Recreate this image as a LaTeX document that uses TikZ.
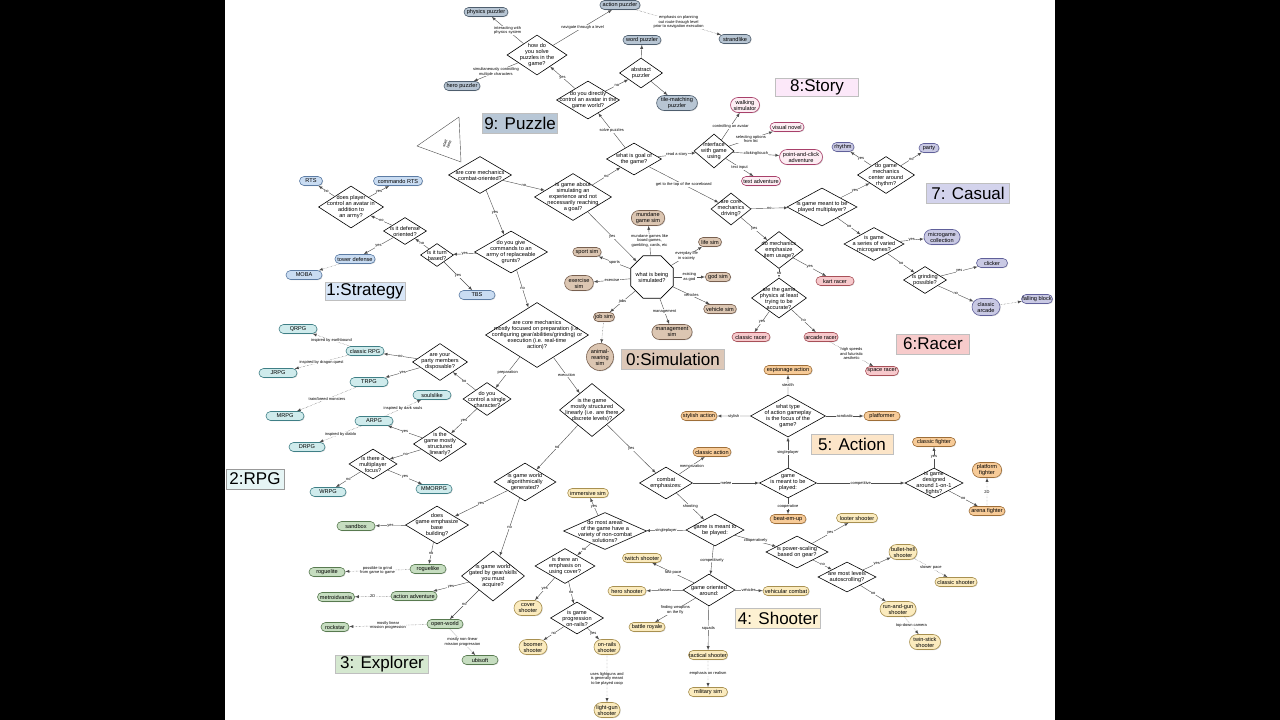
\documentclass[tikz,border=0pt]{standalone}
\usepackage{fontspec}
\setmainfont{Liberation Sans}
\usetikzlibrary{arrows}
\usetikzlibrary{shapes}
\usetikzlibrary{shadows}

\definecolor{puzF}{HTML}{B7C5D3}\definecolor{puzD}{HTML}{4E5E6E}\definecolor{puzL}{HTML}{B8C7D6}
\definecolor{strF}{HTML}{C9DCF2}\definecolor{strD}{HTML}{5C7CA4}\definecolor{strL}{HTML}{D8E6F7}
\definecolor{rpgF}{HTML}{CFEBEC}\definecolor{rpgD}{HTML}{3F7F86}\definecolor{rpgL}{HTML}{E6F5F5}
\definecolor{expF}{HTML}{C6DDC0}\definecolor{expD}{HTML}{587A50}\definecolor{expL}{HTML}{D5E8D0}
\definecolor{shoF}{HTML}{FBEBBE}\definecolor{shoD}{HTML}{A89050}\definecolor{shoL}{HTML}{FDF1D2}
\definecolor{actF}{HTML}{F7CB98}\definecolor{actD}{HTML}{9E6E38}\definecolor{actL}{HTML}{FCE5C8}
\definecolor{racF}{HTML}{F7C9CC}\definecolor{racD}{HTML}{A85058}\definecolor{racL}{HTML}{F7CBCB}
\definecolor{casF}{HTML}{C9C9E4}\definecolor{casD}{HTML}{60609A}\definecolor{casL}{HTML}{D3D3EC}
\definecolor{stoF}{HTML}{FDEDF3}\definecolor{stoD}{HTML}{A8406A}\definecolor{stoL}{HTML}{FCE8F9}
\definecolor{simF}{HTML}{DCC6B2}\definecolor{simD}{HTML}{786050}\definecolor{simL}{HTML}{DDC8B8}

\newcommand{\gnfont}{\fontsize{5.6}{6}\selectfont}
\newcommand{\elfont}{\fontsize{4}{4.5}\selectfont}
\newcommand{\clfont}{\fontsize{17}{19}\selectfont}

\begin{document}
\begin{tikzpicture}[x=1pt, y=-1pt]
	\tikzstyle{nodeStyle}=[rounded rectangle, draw, line width=.6pt, inner xsep=2pt, inner ysep=.8pt, minimum height=9pt, font=\gnfont, align=center, drop shadow={shadow xshift=.7pt, shadow yshift=-.7pt, opacity=.35}]
	\tikzstyle{twoStyle}=[minimum height=15pt]
	\tikzstyle{puzzleStyle}=[nodeStyle, fill=puzF, draw=puzD]
	\tikzstyle{strategyStyle}=[nodeStyle, fill=strF, draw=strD]
	\tikzstyle{rpgStyle}=[nodeStyle, fill=rpgF, draw=rpgD]
	\tikzstyle{explorerStyle}=[nodeStyle, fill=expF, draw=expD]
	\tikzstyle{shooterStyle}=[nodeStyle, fill=shoF, draw=shoD]
	\tikzstyle{actionStyle}=[nodeStyle, fill=actF, draw=actD]
	\tikzstyle{racerStyle}=[nodeStyle, fill=racF, draw=racD]
	\tikzstyle{casualStyle}=[nodeStyle, fill=casF, draw=casD]
	\tikzstyle{storyStyle}=[nodeStyle, fill=stoF, draw=stoD]
	\tikzstyle{simStyle}=[nodeStyle, fill=simF, draw=simD]
	\tikzstyle{askStyle}=[diamond, draw=black, line width=.6pt, fill=white, inner sep=0pt]
	\tikzstyle{askText}=[font=\gnfont, align=center, inner sep=0pt]
	\tikzstyle{clusterStyle}=[draw=black!25, line width=.4pt, font=\clfont, inner sep=1pt, minimum height=20pt]
	\tikzstyle{edgeStyle}=[draw=black!70, line width=.4pt, -latex]
	\tikzstyle{hintStyle}=[edgeStyle, densely dotted]
	\tikzstyle{labStyle}=[font=\elfont, fill=white, inner sep=.4pt, align=center, midway]

	% page
	\useasboundingbox (0,0) rectangle (1280,720);
	\fill[black] (0,0) rectangle (1280,720);
	\fill[white] (225,0) rectangle (1055,720);

	% start
	\draw[line width=.4pt, draw=black!70] (417,146) -- (459,117) -- (461,162) -- cycle;
	\node[font=\elfont, align=center, rotate=70] (start) at (447,144) {start\\here};

	% questions
	\node[askStyle, minimum width=63, minimum height=37, label={[askText]center:are core mechanics\\combat-oriented?}] (combat) at (480,175) {};
	\node[askStyle, minimum width=77, minimum height=47, label={[askText]center:is game about\\simulating an\\experience and not\\necessarily reaching\\a goal?}] (simul) at (573,197) {};
	\node[askStyle, minimum width=55, minimum height=32, label={[askText]center:what is goal of\\the game?}] (goal) at (634,159) {};
	\node[askStyle, minimum width=40, minimum height=32, label={[askText]center:are core\\mechanics\\driving?}] (driving) at (731,209) {};
	\node[askStyle, minimum width=70, minimum height=38, label={[askText]center:is game meant to be\\played multiplayer?}] (multi) at (822,207) {};

	% 9: puzzle
	\node[askStyle, minimum width=60, minimum height=40, label={[askText]center:how do\\you solve\\puzzles in the\\game?}] (solve) at (537,55) {};
	\node[askStyle, minimum width=43, minimum height=30, label={[askText]center:abstract\\puzzler}] (abstr) at (641,73) {};
	\node[askStyle, minimum width=63, minimum height=38, label={[askText]center:do you directly\\control an avatar in the\\game world?}] (avatar) at (588,100) {};
	\node[puzzleStyle, minimum width=42] (phys) at (486,12) {physics puzzler};
	\node[puzzleStyle, minimum width=40] (actp) at (620,5) {action puzzler};
	\node[puzzleStyle, minimum width=36] (strand) at (735,39) {strandlike};
	\node[puzzleStyle, minimum width=42] (wordp) at (642,40) {word puzzler};
	\node[puzzleStyle, minimum width=40] (herop) at (462,86) {hero puzzler};
	\node[puzzleStyle, twoStyle, minimum width=37] (tilep) at (677,103) {tile-matching\\puzzler};
	\node[clusterStyle, fill=puzL, minimum width=75] (lpuz) at (520,123) {9: Puzzle};

	% 8: story
	\node[askStyle, minimum width=40, minimum height=34, label={[askText]center:interface\\with game\\using}] (iface) at (714,151) {};
	\node[storyStyle, twoStyle, minimum width=33] (walk) at (745,105) {walking\\simulator};
	\node[storyStyle, minimum width=38] (vnov) at (787,127) {visual novel};
	\node[storyStyle, twoStyle, minimum width=47] (pnc) at (801,157) {point-and-click\\adventure};
	\node[storyStyle, minimum width=43] (textadv) at (761,181) {text adventure};
	\node[clusterStyle, fill=stoL, minimum width=83, minimum height=18] (lsto) at (817,87) {8:Story};

	% 7: casual
	\node[askStyle, minimum width=57, minimum height=37, label={[askText]center:do game\\mechanics\\center around\\rhythm?}] (rhyd) at (886,175) {};
	\node[askStyle, minimum width=60, minimum height=33, label={[askText]center:is game\\a series of varied\\microgames?}] (microd) at (874,244) {};
	\node[askStyle, minimum width=43, minimum height=27, label={[askText]center:is grinding\\possible?}] (grind) at (925,280) {};
	\node[casualStyle, minimum width=26] (rhythm) at (843,147) {rhythm};
	\node[casualStyle, minimum width=24] (party) at (929,148) {party};
	\node[casualStyle, twoStyle, minimum width=40] (micro) at (942,237) {microgame\\collection};
	\node[casualStyle, minimum width=35] (clicker) at (992,263) {clicker};
	\node[casualStyle, twoStyle, minimum width=32, minimum height=17] (carc) at (986,307) {classic\\arcade};
	\node[casualStyle, minimum width=35] (fallb) at (1037,299) {falling block};
	\node[clusterStyle, fill=casL, minimum width=83] (lcas) at (968,193) {7: Casual};

	% 6: racer
	\node[askStyle, minimum width=48, minimum height=37, label={[askText]center:do mechanics\\emphasize\\item usage?}] (itemd) at (779,250) {};
	\node[askStyle, minimum width=55, minimum height=40, label={[askText]center:are the game\\physics at least\\trying to be\\accurate?}] (physd) at (779,298) {};
	\node[racerStyle, minimum width=42] (kart) at (835,281) {kart racer};
	\node[racerStyle, minimum width=42] (cracer) at (751,337) {classic racer};
	\node[racerStyle, minimum width=38] (aracer) at (821,337) {arcade racer};
	\node[racerStyle, minimum width=37] (sracer) at (882,371) {space racer};
	\node[clusterStyle, fill=racL, minimum width=73] (lrac) at (933,344) {6:Racer};

	% 0: simulation
	\node[regular polygon, regular polygon sides=8, draw, line width=.7pt, fill=white, inner sep=0pt, minimum size=46, label={[askText]center:what is being\\simulated?}] (whatsim) at (652,277) {};
	\node[simStyle, twoStyle, minimum width=32] (mund) at (648,218) {mundane\\game sim};
	\node[simStyle, minimum width=27] (sport) at (587,252) {sport sim};
	\node[simStyle, minimum width=27] (life) at (710,242) {life sim};
	\node[simStyle, twoStyle, minimum width=28] (exer) at (579,283) {exercise\\sim};
	\node[simStyle, minimum width=25] (god) at (718,277) {god sim};
	\node[simStyle, minimum width=28] (veh) at (720,309) {vehicle sim};
	\node[simStyle, minimum width=25] (job) at (604,317) {job sim};
	\node[simStyle, twoStyle, minimum width=38] (mgmt) at (672,332) {management\\sim};
	\node[simStyle, minimum width=27, minimum height=27, inner xsep=0pt] (animal) at (600,357) {animal-\\rearing\\sim};
	\node[clusterStyle, fill=simL, minimum width=103] (lsim) at (673,359) {0:Simulation};

	% 1: strategy
	\node[askStyle, minimum width=73, minimum height=42, label={[askText]center:do you give\\commands to an\\army of replaceable\\grunts?}] (grunts) at (511,252) {};
	\node[askStyle, minimum width=33, minimum height=23, label={[askText]center:is it turn\\based?}] (turnd) at (437,255) {};
	\node[askStyle, minimum width=43, minimum height=27, label={[askText]center:is it defense\\oriented?}] (defd) at (405,231) {};
	\node[askStyle, minimum width=65, minimum height=42, label={[askText]center:does player\\control an avatar in\\addition to\\an army?}] (avd) at (351,207) {};
	\node[strategyStyle, minimum width=27] (rts) at (311,181) {RTS};
	\node[strategyStyle, minimum width=53] (crts) at (398,181) {commando RTS};
	\node[strategyStyle, minimum width=40] (tdef) at (355,259) {tower defense};
	\node[strategyStyle, minimum width=40] (moba) at (304,275) {MOBA};
	\node[strategyStyle, minimum width=40] (tbs) at (477,295) {TBS};
	\node[clusterStyle, fill=strL, minimum width=80, minimum height=18] (lstr) at (365,291) {1:Strategy};

	% 2: rpg
	\node[askStyle, minimum width=103, minimum height=65, label={[askText]center:are core mechanics\\mostly focused on preparation (i.e.\\configuring gear/abilities/grinding) or\\execution (i.e. real-time\\action)?}] (prepd) at (537,335) {};
	\node[askStyle, minimum width=48, minimum height=33, label={[askText]center:do you\\control a single\\character?}] (singd) at (487,399) {};
	\node[askStyle, minimum width=55, minimum height=37, label={[askText]center:are your\\party members\\disposable?}] (partyd) at (440,362) {};
	\node[askStyle, minimum width=53, minimum height=35, label={[askText]center:is the\\game mostly\\structured\\linearly?}] (rlind) at (440,444) {};
	\node[askStyle, minimum width=48, minimum height=30, label={[askText]center:is there a\\multiplayer\\focus?}] (mpd) at (373,464) {};
	\node[rpgStyle, minimum width=42] (qrpg) at (298,329) {QRPG};
	\node[rpgStyle, minimum width=42] (crpg) at (365,351) {classic RPG};
	\node[rpgStyle, minimum width=42] (jrpg) at (278,373) {JRPG};
	\node[rpgStyle, minimum width=42] (trpg) at (369,382) {TRPG};
	\node[rpgStyle, minimum width=42] (souls) at (432,395) {soulslike};
	\node[rpgStyle, minimum width=42] (mrpg) at (285,416) {MRPG};
	\node[rpgStyle, minimum width=42] (arpg) at (374,421) {ARPG};
	\node[rpgStyle, minimum width=40] (drpg) at (307,447) {DRPG};
	\node[rpgStyle, minimum width=40] (wrpg) at (328,492) {WRPG};
	\node[rpgStyle, minimum width=40] (mmo) at (434,489) {MMORPG};
	\node[clusterStyle, fill=rpgL, draw=black!40, minimum width=58] (lrpg) at (255,479) {2:RPG};

	% 3: explorer
	\node[askStyle, minimum width=65, minimum height=53, label={[askText]center:is the game\\mostly structured\\linearly (i.e. are there\\discrete levels)?}] (lind) at (592,410) {};
	\node[askStyle, minimum width=62, minimum height=38, label={[askText]center:is game world\\algorithmically\\generated?}] (algd) at (525,482) {};
	\node[askStyle, minimum width=63, minimum height=38, label={[askText]center:does\\game emphasize\\base\\building?}] (based) at (437,525) {};
	\node[askStyle, minimum width=63, minimum height=50, label={[askText]center:is game world\\gated by gear/skills\\you must\\acquire?}] (gated) at (493,576) {};
	\node[explorerStyle, minimum width=42] (sandbox) at (356,526) {sandbox};
	\node[explorerStyle, minimum width=40] (rlike) at (428,569) {roguelike};
	\node[explorerStyle, minimum width=40] (rlite) at (327,572) {roguelite};
	\node[explorerStyle, minimum width=50] (aadv) at (414,596) {action adventure};
	\node[explorerStyle, minimum width=37] (metv) at (336,597) {metroidvania};
	\node[explorerStyle, minimum width=40] (openw) at (445,624) {open-world};
	\node[explorerStyle, minimum width=32] (rock) at (335,627) {rockstar};
	\node[explorerStyle, minimum width=40] (ubi) at (480,660) {ubisoft};
	\node[clusterStyle, fill=expL, minimum width=93, minimum height=18] (lexp) at (382,664) {3: Explorer};

	% 5: action
	\node[askStyle, minimum width=53, minimum height=32, label={[askText]center:combat\\emphasizes:}] (combd) at (666,483) {};
	\node[askStyle, minimum width=57, minimum height=30, label={[askText]center:game\\is meant to be\\played:}] (playa) at (788,483) {};
	\node[askStyle, minimum width=75, minimum height=42, label={[askText]center:what type\\of action gameplay\\is the focus of the\\game?}] (typed) at (788,416) {};
	\node[askStyle, minimum width=58, minimum height=30, label={[askText]center:is game\\designed\\around 1-on-1\\fights?}] (oned) at (934,483) {};
	\node[actionStyle, minimum width=42] (cact) at (712,452) {classic action};
	\node[actionStyle, minimum width=40] (styl) at (699,416) {stylish action};
	\node[actionStyle, minimum width=48] (esp) at (788,370) {espionage action};
	\node[actionStyle, minimum width=40] (plat) at (882,416) {platformer};
	\node[actionStyle, minimum width=47] (cfight) at (934,442) {classic fighter};
	\node[actionStyle, minimum width=40] (beat) at (788,519) {beat-em-up};
	\node[actionStyle, twoStyle, minimum width=27] (pfight) at (987,470) {platform\\fighter};
	\node[actionStyle, minimum width=40] (afight) at (987,511) {arena fighter};
	\node[clusterStyle, fill=actL, minimum width=82] (lact) at (852,444) {5: Action};

	% 4: shooter
	\node[askStyle, minimum width=58, minimum height=32, label={[askText]center:game is meant to\\be played:}] (plays) at (715,530) {};
	\node[askStyle, minimum width=83, minimum height=37, label={[askText]center:do most areas\\of the game have a\\variety of non-combat\\solutions?}] (areas) at (605,531) {};
	\node[askStyle, minimum width=60, minimum height=35, label={[askText]center:is there an\\emphasis on\\using cover?}] (coverd) at (565,566) {};
	\node[askStyle, minimum width=53, minimum height=32, label={[askText]center:is game\\progression\\on-rails?}] (railsd) at (577,618) {};
	\node[askStyle, minimum width=52, minimum height=32, label={[askText]center:game oriented\\around:}] (orient) at (709,590) {};
	\node[askStyle, minimum width=62, minimum height=32, label={[askText]center:is power-scaling\\based on gear?}] (powd) at (797,552) {};
	\node[askStyle, minimum width=58, minimum height=30, label={[askText]center:are most levels\\autoscrolling?}] (autod) at (847,577) {};
	\node[shooterStyle, minimum width=40] (imm) at (588,493) {immersive sim};
	\node[shooterStyle, twoStyle, minimum width=32] (covs) at (528,608) {cover\\shooter};
	\node[shooterStyle, twoStyle, minimum width=32] (boom) at (533,647) {boomer\\shooter};
	\node[shooterStyle, twoStyle, minimum width=30] (onr) at (607,647) {on-rails\\shooter};
	\node[shooterStyle, twoStyle, minimum width=30] (lgun) at (607,710) {light-gun\\shooter};
	\node[shooterStyle, minimum width=43] (twitch) at (642,558) {twitch shooter};
	\node[shooterStyle, minimum width=42] (hero) at (627,591) {hero shooter};
	\node[shooterStyle, minimum width=50] (vehc) at (786,591) {vehicular combat};
	\node[shooterStyle, minimum width=40] (royale) at (647,627) {battle royale};
	\node[shooterStyle, minimum width=43] (tact) at (708,655) {tactical shooter};
	\node[shooterStyle, minimum width=43] (mil) at (708,692) {military sim};
	\node[shooterStyle, minimum width=45] (loot) at (857,518) {looter shooter};
	\node[shooterStyle, twoStyle, minimum width=32] (bullet) at (903,552) {bullet-hell\\shooter};
	\node[shooterStyle, minimum width=40] (cshoot) at (956,582) {classic shooter};
	\node[shooterStyle, twoStyle, minimum width=40] (run) at (898,609) {run-and-gun\\shooter};
	\node[shooterStyle, twoStyle, minimum width=35] (twin) at (925,642) {twin-stick\\shooter};
	\node[clusterStyle, fill=shoL, minimum width=85] (lsho) at (778,618) {4: Shooter};

	% edges: top level
	\draw[edgeStyle] (combat) -- node[labStyle]{no} (simul);
	\draw[edgeStyle] (combat) -- node[labStyle]{yes} (grunts);
	\draw[edgeStyle] (simul) -- node[labStyle]{no} (goal);
	\draw[edgeStyle] (simul) -- node[labStyle]{yes} (whatsim);
	\draw[edgeStyle] (goal) -- node[labStyle]{solve puzzles} (avatar);
	\draw[edgeStyle] (goal) -- node[labStyle]{read a story} (iface);
	\draw[edgeStyle] (goal) -- node[labStyle]{get to the top of the scoreboard} (driving);
	\draw[edgeStyle] (driving) -- node[labStyle]{no} (multi);
	\draw[edgeStyle] (driving) -- node[labStyle]{yes} (itemd);

	% edges: puzzle
	\draw[edgeStyle] (solve) -- node[labStyle]{interacting with\\physics system} (phys);
	\draw[edgeStyle] (solve) -- node[labStyle]{navigate through a level} (actp);
	\draw[hintStyle] (actp) -- node[labStyle]{emphasis on planning\\out route through level\\prior to navigation execution} (strand);
	\draw[edgeStyle] (solve) -- node[labStyle]{simultaneously controlling\\multiple characters} (herop);
	\draw[edgeStyle] (avatar) -- node[labStyle]{yes} (solve);
	\draw[edgeStyle] (avatar) -- node[labStyle]{no} (abstr);
	\draw[edgeStyle] (abstr) -- (wordp);
	\draw[edgeStyle] (abstr) -- (tilep);

	% edges: story
	\draw[edgeStyle] (iface) -- node[labStyle]{controlling an avatar} (walk);
	\draw[edgeStyle] (iface) -- node[labStyle]{selecting options\\from list} (vnov);
	\draw[edgeStyle] (iface) -- node[labStyle]{clicking/touch} (pnc);
	\draw[edgeStyle] (iface) -- node[labStyle]{text input} (textadv);

	% edges: casual
	\draw[edgeStyle] (multi) -- node[labStyle]{yes} (rhyd);
	\draw[edgeStyle] (multi) -- node[labStyle]{no} (microd);
	\draw[edgeStyle] (rhyd) -- node[labStyle]{yes} (rhythm);
	\draw[edgeStyle] (rhyd) -- node[labStyle]{no} (party);
	\draw[edgeStyle] (microd) -- node[labStyle]{yes} (micro);
	\draw[edgeStyle] (microd) -- node[labStyle]{no} (grind);
	\draw[edgeStyle] (grind) -- node[labStyle]{yes} (clicker);
	\draw[edgeStyle] (grind) -- node[labStyle]{no} (carc);
	\draw[hintStyle] (carc) -- (fallb);

	% edges: racer
	\draw[edgeStyle] (itemd) -- node[labStyle]{yes} (kart);
	\draw[edgeStyle] (itemd) -- node[labStyle]{no} (physd);
	\draw[edgeStyle] (physd) -- node[labStyle]{yes} (cracer);
	\draw[edgeStyle] (physd) -- node[labStyle]{no} (aracer);
	\draw[hintStyle] (aracer) -- node[labStyle]{high speeds\\and futuristic\\aesthetic} (sracer);

	% edges: simulation
	\draw[edgeStyle] (whatsim) -- node[labStyle]{mundane games like\\board games,\\gambling, cards, etc} (mund);
	\draw[edgeStyle] (whatsim) -- node[labStyle]{everyday life\\in society} (life);
	\draw[edgeStyle] (whatsim) -- node[labStyle]{sports} (sport);
	\draw[edgeStyle] (whatsim) -- node[labStyle]{existing\\as god} (god);
	\draw[edgeStyle] (whatsim) -- node[labStyle]{exercise} (exer);
	\draw[edgeStyle] (whatsim) -- node[labStyle]{vehicles} (veh);
	\draw[edgeStyle] (whatsim) -- node[labStyle]{jobs} (job);
	\draw[edgeStyle] (whatsim) -- node[labStyle]{management} (mgmt);
	\draw[hintStyle] (job) -- (animal);

	% edges: strategy
	\draw[edgeStyle] (grunts) -- node[labStyle]{yes} (turnd);
	\draw[edgeStyle] (grunts) -- node[labStyle]{no} (prepd);
	\draw[edgeStyle] (turnd) -- node[labStyle]{yes} (tbs);
	\draw[edgeStyle] (turnd) -- node[labStyle]{no} (defd);
	\draw[edgeStyle] (defd) -- node[labStyle]{yes} (tdef);
	\draw[edgeStyle] (defd) -- node[labStyle]{no} (avd);
	\draw[edgeStyle] (avd) -- node[labStyle]{no} (rts);
	\draw[edgeStyle] (avd) -- node[labStyle]{yes} (crts);
	\draw[hintStyle] (tdef) -- (moba);

	% edges: rpg
	\draw[edgeStyle] (prepd) -- node[labStyle]{preparation} (singd);
	\draw[edgeStyle] (prepd) -- node[labStyle]{execution} (lind);
	\draw[edgeStyle] (singd) -- node[labStyle]{no} (partyd);
	\draw[edgeStyle] (singd) -- node[labStyle]{yes} (rlind);
	\draw[edgeStyle] (partyd) -- node[labStyle]{no} (crpg);
	\draw[edgeStyle] (partyd) -- node[labStyle]{yes} (trpg);
	\draw[hintStyle] (crpg) -- node[labStyle]{inspired by earthbound} (qrpg);
	\draw[hintStyle] (crpg) -- node[labStyle]{inspired by dragon quest} (jrpg);
	\draw[hintStyle] (trpg) -- node[labStyle]{train/breed monsters} (mrpg);
	\draw[edgeStyle] (rlind) -- node[labStyle]{yes} (arpg);
	\draw[edgeStyle] (rlind) -- node[labStyle]{no} (mpd);
	\draw[hintStyle] (arpg) -- node[labStyle]{inspired by dark souls} (souls);
	\draw[hintStyle] (arpg) -- node[labStyle]{inspired by diablo} (drpg);
	\draw[edgeStyle] (mpd) -- node[labStyle]{no} (wrpg);
	\draw[edgeStyle] (mpd) -- node[labStyle]{yes} (mmo);

	% edges: explorer
	\draw[edgeStyle] (lind) -- node[labStyle]{no} (algd);
	\draw[edgeStyle] (algd) -- node[labStyle]{yes} (based);
	\draw[edgeStyle] (algd) -- node[labStyle]{no} (gated);
	\draw[edgeStyle] (based) -- node[labStyle]{yes} (sandbox);
	\draw[edgeStyle] (based) -- node[labStyle]{no} (rlike);
	\draw[hintStyle] (rlike) -- node[labStyle]{possible to grind\\from game to game} (rlite);
	\draw[edgeStyle] (gated) -- node[labStyle]{yes} (aadv);
	\draw[edgeStyle] (gated) -- node[labStyle]{no} (openw);
	\draw[hintStyle] (aadv) -- node[labStyle]{2D} (metv);
	\draw[hintStyle] (openw) -- node[labStyle]{mostly linear\\mission progression} (rock);
	\draw[hintStyle] (openw) -- node[labStyle]{mostly non-linear\\mission progression} (ubi);

	% edges: action
	\draw[edgeStyle] (lind) -- node[labStyle]{yes} (combd);
	\draw[edgeStyle] (combd) -- node[labStyle]{memorization} (cact);
	\draw[edgeStyle] (combd) -- node[labStyle]{melee} (playa);
	\draw[edgeStyle] (combd) -- node[labStyle]{shooting} (plays);
	\draw[edgeStyle] (playa) -- node[labStyle]{singleplayer} (typed);
	\draw[edgeStyle] (playa) -- node[labStyle]{cooperative} (beat);
	\draw[edgeStyle] (playa) -- node[labStyle]{competitive} (oned);
	\draw[edgeStyle] (typed) -- node[labStyle]{stealth} (esp);
	\draw[edgeStyle] (typed) -- node[labStyle]{stylish} (styl);
	\draw[edgeStyle] (typed) -- node[labStyle]{acrobatic} (plat);
	\draw[edgeStyle] (oned) -- node[labStyle]{yes} (cfight);
	\draw[edgeStyle] (oned) -- node[labStyle]{no} (afight);
	\draw[hintStyle] (afight) -- node[labStyle]{2D} (pfight);

	% edges: shooter
	\draw[edgeStyle] (plays) -- node[labStyle]{singleplayer} (areas);
	\draw[edgeStyle] (plays) -- node[labStyle]{competitively} (orient);
	\draw[edgeStyle] (plays) -- node[labStyle]{cooperatively} (powd);
	\draw[edgeStyle] (areas) -- node[labStyle]{yes} (imm);
	\draw[edgeStyle] (areas) -- node[labStyle]{no} (coverd);
	\draw[edgeStyle] (coverd) -- node[labStyle]{yes} (covs);
	\draw[edgeStyle] (coverd) -- node[labStyle]{no} (railsd);
	\draw[edgeStyle] (railsd) -- node[labStyle]{no} (boom);
	\draw[edgeStyle] (railsd) -- node[labStyle]{yes} (onr);
	\draw[hintStyle] (onr) -- node[labStyle]{uses lightguns and\\is generally meant\\to be played coop} (lgun);
	\draw[edgeStyle] (orient) -- node[labStyle]{fast-pace} (twitch);
	\draw[edgeStyle] (orient) -- node[labStyle]{classes} (hero);
	\draw[edgeStyle] (orient) -- node[labStyle]{vehicles} (vehc);
	\draw[edgeStyle] (orient) -- node[labStyle]{finding weapons\\on the fly} (royale);
	\draw[edgeStyle] (orient) -- node[labStyle]{squads} (tact);
	\draw[hintStyle] (tact) -- node[labStyle]{emphasis on realism} (mil);
	\draw[edgeStyle] (powd) -- node[labStyle]{yes} (loot);
	\draw[edgeStyle] (powd) -- node[labStyle]{no} (autod);
	\draw[edgeStyle] (autod) -- node[labStyle]{yes} (bullet);
	\draw[edgeStyle] (autod) -- node[labStyle]{no} (run);
	\draw[hintStyle] (bullet) -- node[labStyle]{slower pace} (cshoot);
	\draw[hintStyle] (run) -- node[labStyle]{top-down camera} (twin);
\end{tikzpicture}
\end{document}
